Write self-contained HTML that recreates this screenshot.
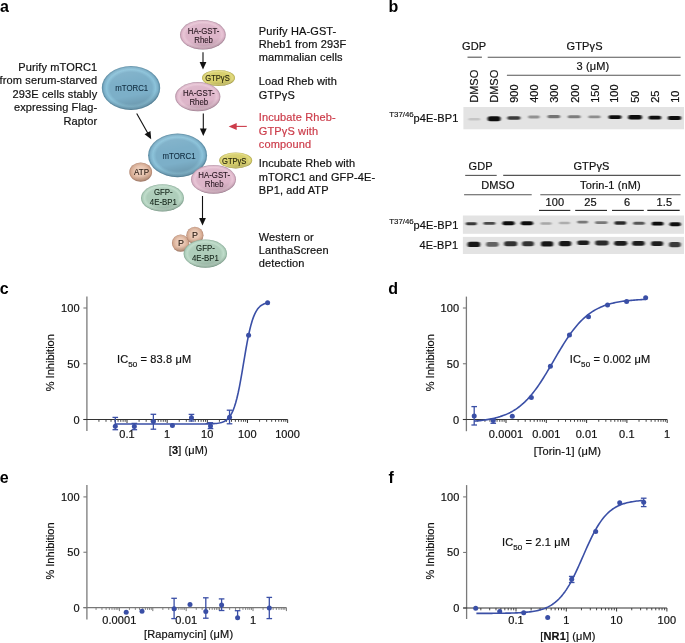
<!DOCTYPE html><html><head><meta charset="utf-8"><title>Figure</title><style>html,body{margin:0;padding:0;background:#fff;}svg{display:block;}</style></head><body>
<svg width="685" height="643" viewBox="0 0 685 643" font-family="'Liberation Sans', Arial, sans-serif">
<style>.t{stroke-width:0.22px;}</style>
<defs><radialGradient id="gBlue" cx="50%" cy="50%" r="50%"><stop offset="0" stop-color="#7cafc8"/><stop offset="0.72" stop-color="#7cafc8"/><stop offset="0.84" stop-color="#8cc3da"/><stop offset="0.93" stop-color="#7cafc8"/><stop offset="1" stop-color="#52849c"/></radialGradient><radialGradient id="gPink" cx="50%" cy="50%" r="50%"><stop offset="0" stop-color="#ddb5c9"/><stop offset="0.72" stop-color="#ddb5c9"/><stop offset="0.84" stop-color="#e8c6d6"/><stop offset="0.93" stop-color="#ddb5c9"/><stop offset="1" stop-color="#aa899c"/></radialGradient><radialGradient id="gYel" cx="50%" cy="50%" r="50%"><stop offset="0" stop-color="#d6ce6c"/><stop offset="0.72" stop-color="#d6ce6c"/><stop offset="0.84" stop-color="#e3db84"/><stop offset="0.93" stop-color="#d6ce6c"/><stop offset="1" stop-color="#aba24a"/></radialGradient><radialGradient id="gPeach" cx="50%" cy="50%" r="50%" fx="48%" fy="42%"><stop offset="0" stop-color="#f0d6c6"/><stop offset="0.55" stop-color="#e6c2ad"/><stop offset="0.85" stop-color="#d4a990"/><stop offset="1" stop-color="#b08470"/></radialGradient><radialGradient id="gGreen" cx="50%" cy="50%" r="50%"><stop offset="0" stop-color="#aecdba"/><stop offset="0.72" stop-color="#aecdba"/><stop offset="0.84" stop-color="#bfdcca"/><stop offset="0.93" stop-color="#aecdba"/><stop offset="1" stop-color="#82a792"/></radialGradient><linearGradient id="shade" x1="0" y1="0" x2="0.25" y2="1"><stop offset="0" stop-color="#fff" stop-opacity="0.12"/><stop offset="0.45" stop-color="#fff" stop-opacity="0"/><stop offset="0.75" stop-color="#000" stop-opacity="0"/><stop offset="1" stop-color="#000" stop-opacity="0.13"/></linearGradient><filter id="blur1" x="-50%" y="-100%" width="200%" height="300%"><feGaussianBlur stdDeviation="1.1 0.65"/></filter><filter id="blur2" x="-50%" y="-100%" width="200%" height="300%"><feGaussianBlur stdDeviation="1.2 0.9"/></filter></defs>
<rect width="685" height="643" fill="#fff"/>
<text x="0.1" y="11.9" font-size="16" font-weight="bold" fill="#000">a</text>
<text x="388.5" y="11.8" font-size="16" font-weight="bold" fill="#000">b</text>
<text x="-0.2" y="293.9" font-size="16" font-weight="bold" fill="#000">c</text>
<text x="388.3" y="293.7" font-size="16" font-weight="bold" fill="#000">d</text>
<text x="-0.2" y="482.9" font-size="16" font-weight="bold" fill="#000">e</text>
<text x="388.4" y="482.9" font-size="16" font-weight="bold" fill="#000">f</text>
<text x="97.3" y="70.7" font-size="11" text-anchor="end" letter-spacing="0.13" stroke="#111" stroke-width="0.2" fill="#111">Purify mTORC1</text>
<text x="97.3" y="84.2" font-size="11" text-anchor="end" letter-spacing="0.13" stroke="#111" stroke-width="0.2" fill="#111">from serum-starved</text>
<text x="97.3" y="97.7" font-size="11" text-anchor="end" letter-spacing="0.13" stroke="#111" stroke-width="0.2" fill="#111">293E cells stably</text>
<text x="97.3" y="111.2" font-size="11" text-anchor="end" letter-spacing="0.13" stroke="#111" stroke-width="0.2" fill="#111">expressing Flag-</text>
<text x="97.3" y="124.7" font-size="11" text-anchor="end" letter-spacing="0.13" stroke="#111" stroke-width="0.2" fill="#111">Raptor</text>
<text x="258.8" y="34.6" font-size="11" letter-spacing="0.13" stroke="#111" stroke-width="0.2" fill="#111">Purify HA-GST-</text>
<text x="258.8" y="48" font-size="11" letter-spacing="0.13" stroke="#111" stroke-width="0.2" fill="#111">Rheb1 from 293F</text>
<text x="258.8" y="61.4" font-size="11" letter-spacing="0.13" stroke="#111" stroke-width="0.2" fill="#111">mammalian cells</text>
<text x="258.8" y="85" font-size="11" letter-spacing="0.13" stroke="#111" stroke-width="0.2" fill="#111">Load Rheb with</text>
<text x="258.8" y="98.7" font-size="11" letter-spacing="0.13" stroke="#111" stroke-width="0.2" fill="#111">GTP&#947;S</text>
<text x="258.8" y="120.8" font-size="11" letter-spacing="0.13" stroke="#cc3c4a" stroke-width="0.2" fill="#cc3c4a">Incubate Rheb-</text>
<text x="258.8" y="134.55" font-size="11" letter-spacing="0.13" stroke="#cc3c4a" stroke-width="0.2" fill="#cc3c4a">GTP&#947;S with</text>
<text x="258.8" y="148.3" font-size="11" letter-spacing="0.13" stroke="#cc3c4a" stroke-width="0.2" fill="#cc3c4a">compound</text>
<text x="258.8" y="167.2" font-size="11" letter-spacing="0.13" stroke="#111" stroke-width="0.2" fill="#111">Incubate Rheb with</text>
<text x="258.8" y="180.75" font-size="11" letter-spacing="0.13" stroke="#111" stroke-width="0.2" fill="#111">mTORC1 and GFP-4E-</text>
<text x="258.8" y="194.3" font-size="11" letter-spacing="0.13" stroke="#111" stroke-width="0.2" fill="#111">BP1, add ATP</text>
<text x="258.8" y="240.6" font-size="11" letter-spacing="0.13" stroke="#111" stroke-width="0.2" fill="#111">Western or</text>
<text x="258.8" y="253.85" font-size="11" letter-spacing="0.13" stroke="#111" stroke-width="0.2" fill="#111">LanthaScreen</text>
<text x="258.8" y="267.1" font-size="11" letter-spacing="0.13" stroke="#111" stroke-width="0.2" fill="#111">detection</text>
<ellipse cx="131" cy="88" rx="29.2" ry="22" fill="url(#gBlue)"/>
<ellipse cx="131" cy="88" rx="29.2" ry="22" fill="url(#shade)"/>
<text x="0" y="0" transform="translate(131.75,91.2) scale(0.88,1)" font-size="8.9" text-anchor="middle" fill="#112d40" stroke="#112d40" stroke-width="0.12">mTORC1</text>
<ellipse cx="202.9" cy="34.8" rx="22.9" ry="14.8" fill="url(#gPink)"/>
<ellipse cx="202.9" cy="34.8" rx="22.9" ry="14.8" fill="url(#shade)"/>
<text x="0" y="0" transform="translate(203.6,33.7) scale(0.88,1)" font-size="8.9" text-anchor="middle" fill="#26161f" stroke="#26161f" stroke-width="0.12">HA-GST-</text>
<text x="0" y="0" transform="translate(203.6,42.8) scale(0.88,1)" font-size="8.9" text-anchor="middle" fill="#26161f" stroke="#26161f" stroke-width="0.12">Rheb</text>
<ellipse cx="218.5" cy="78" rx="16.5" ry="8" fill="url(#gYel)"/>
<ellipse cx="218.5" cy="78" rx="16.5" ry="8" fill="url(#shade)"/>
<text x="0" y="0" transform="translate(217.5,80.8) scale(0.88,1)" font-size="8.6" text-anchor="middle" fill="#201e08" stroke="#201e08" stroke-width="0.12">GTP&#947;S</text>
<ellipse cx="197.8" cy="96.7" rx="22.6" ry="14.6" fill="url(#gPink)"/>
<ellipse cx="197.8" cy="96.7" rx="22.6" ry="14.6" fill="url(#shade)"/>
<text x="0" y="0" transform="translate(198.75,95.9) scale(0.88,1)" font-size="8.9" text-anchor="middle" fill="#26161f" stroke="#26161f" stroke-width="0.12">HA-GST-</text>
<text x="0" y="0" transform="translate(198.75,104.9) scale(0.88,1)" font-size="8.9" text-anchor="middle" fill="#26161f" stroke="#26161f" stroke-width="0.12">Rheb</text>
<ellipse cx="177.6" cy="155.4" rx="29.5" ry="21.8" fill="url(#gBlue)"/>
<ellipse cx="177.6" cy="155.4" rx="29.5" ry="21.8" fill="url(#shade)"/>
<text x="0" y="0" transform="translate(179.05,159) scale(0.88,1)" font-size="8.9" text-anchor="middle" fill="#112d40" stroke="#112d40" stroke-width="0.12">mTORC1</text>
<ellipse cx="235.7" cy="160.4" rx="16.5" ry="8" fill="url(#gYel)"/>
<ellipse cx="235.7" cy="160.4" rx="16.5" ry="8" fill="url(#shade)"/>
<text x="0" y="0" transform="translate(234.2,163.8) scale(0.88,1)" font-size="8.6" text-anchor="middle" fill="#201e08" stroke="#201e08" stroke-width="0.12">GTP&#947;S</text>
<ellipse cx="213.5" cy="179.4" rx="22.5" ry="14.4" fill="url(#gPink)"/>
<ellipse cx="213.5" cy="179.4" rx="22.5" ry="14.4" fill="url(#shade)"/>
<text x="0" y="0" transform="translate(214.2,177.6) scale(0.88,1)" font-size="8.9" text-anchor="middle" fill="#26161f" stroke="#26161f" stroke-width="0.12">HA-GST-</text>
<text x="0" y="0" transform="translate(214.2,187.2) scale(0.88,1)" font-size="8.9" text-anchor="middle" fill="#26161f" stroke="#26161f" stroke-width="0.12">Rheb</text>
<ellipse cx="140.7" cy="172.1" rx="11.4" ry="9.6" fill="url(#gPeach)"/>
<ellipse cx="140.7" cy="172.1" rx="11.4" ry="9.6" fill="url(#shade)"/>
<text x="0" y="0" transform="translate(141.5,175.3) scale(0.9,1)" font-size="8.9" text-anchor="middle" fill="#24170f" stroke="#24170f" stroke-width="0.12">ATP</text>
<ellipse cx="162.5" cy="197.9" rx="21.5" ry="13.7" fill="url(#gGreen)"/>
<ellipse cx="162.5" cy="197.9" rx="21.5" ry="13.7" fill="url(#shade)"/>
<text x="0" y="0" transform="translate(163.3,195.1) scale(0.88,1)" font-size="8.9" text-anchor="middle" fill="#142419" stroke="#142419" stroke-width="0.12">GFP-</text>
<text x="0" y="0" transform="translate(163.3,204.6) scale(0.88,1)" font-size="8.9" text-anchor="middle" fill="#142419" stroke="#142419" stroke-width="0.12">4E-BP1</text>
<ellipse cx="180.6" cy="243.1" rx="8.7" ry="8.7" fill="url(#gPeach)"/>
<ellipse cx="180.6" cy="243.1" rx="8.7" ry="8.7" fill="url(#shade)"/>
<text x="0" y="0" transform="translate(181,245.7) scale(1,1)" font-size="8.9" text-anchor="middle" fill="#24170f" stroke="#24170f" stroke-width="0.12">P</text>
<ellipse cx="194.9" cy="235.3" rx="8.6" ry="8.6" fill="url(#gPeach)"/>
<ellipse cx="194.9" cy="235.3" rx="8.6" ry="8.6" fill="url(#shade)"/>
<text x="0" y="0" transform="translate(195,238.2) scale(1,1)" font-size="8.9" text-anchor="middle" fill="#24170f" stroke="#24170f" stroke-width="0.12">P</text>
<ellipse cx="205.3" cy="253.6" rx="21.7" ry="14.1" fill="url(#gGreen)"/>
<ellipse cx="205.3" cy="253.6" rx="21.7" ry="14.1" fill="url(#shade)"/>
<text x="0" y="0" transform="translate(205.4,251.1) scale(0.88,1)" font-size="8.9" text-anchor="middle" fill="#142419" stroke="#142419" stroke-width="0.12">GFP-</text>
<text x="0" y="0" transform="translate(205.4,260.6) scale(0.88,1)" font-size="8.9" text-anchor="middle" fill="#142419" stroke="#142419" stroke-width="0.12">4E-BP1</text>
<line x1="136.7" y1="113.5" x2="148.01" y2="133.54" stroke="#111" stroke-width="1.1"/>
<polygon points="151.2,139.2 144.55,134.34 150.48,131" fill="#111"/>
<line x1="203" y1="52.3" x2="203" y2="63" stroke="#111" stroke-width="1.1"/>
<polygon points="203,69.5 199.6,62 206.4,62" fill="#111"/>
<line x1="203.3" y1="113.5" x2="203.3" y2="129.5" stroke="#111" stroke-width="1.1"/>
<polygon points="203.3,136 199.9,128.5 206.7,128.5" fill="#111"/>
<line x1="202.5" y1="196" x2="202.5" y2="219" stroke="#111" stroke-width="1.1"/>
<polygon points="202.5,225.5 199.1,218 205.9,218" fill="#111"/>
<line x1="246.8" y1="126.4" x2="235.7" y2="126.4" stroke="#cc3c4a" stroke-width="1.1"/>
<polygon points="228.7,126.4 236.7,122.9 236.7,129.9" fill="#cc3c4a"/>
<text x="462" y="49.5" font-size="11" letter-spacing="0.13" stroke="#111" stroke-width="0.2" fill="#111">GDP</text>
<text x="566.5" y="49.6" font-size="11" letter-spacing="0.13" stroke="#111" stroke-width="0.2" fill="#111">GTP&#947;S</text>
<line x1="467.5" y1="57.2" x2="481.9" y2="57.2" stroke="#555" stroke-width="1.1"/>
<line x1="487.7" y1="57.2" x2="680.6" y2="57.2" stroke="#555" stroke-width="1.1"/>
<text x="576.5" y="69.75" font-size="11" letter-spacing="0.13" stroke="#111" stroke-width="0.2" fill="#111">3 (&#956;M)</text>
<line x1="506.9" y1="75.2" x2="680.6" y2="75.2" stroke="#555" stroke-width="1.1"/>
<text x="0" y="0" font-size="11" fill="#111" stroke="#111" stroke-width="0.2" transform="translate(478,102.8) rotate(-90)">DMSO</text>
<text x="0" y="0" font-size="11" fill="#111" stroke="#111" stroke-width="0.2" transform="translate(498,102.8) rotate(-90)">DMSO</text>
<text x="0" y="0" font-size="11" fill="#111" stroke="#111" stroke-width="0.2" transform="translate(518.2,102.8) rotate(-90)">900</text>
<text x="0" y="0" font-size="11" fill="#111" stroke="#111" stroke-width="0.2" transform="translate(538,102.8) rotate(-90)">400</text>
<text x="0" y="0" font-size="11" fill="#111" stroke="#111" stroke-width="0.2" transform="translate(558,102.8) rotate(-90)">300</text>
<text x="0" y="0" font-size="11" fill="#111" stroke="#111" stroke-width="0.2" transform="translate(578.5,102.8) rotate(-90)">200</text>
<text x="0" y="0" font-size="11" fill="#111" stroke="#111" stroke-width="0.2" transform="translate(598.5,102.8) rotate(-90)">150</text>
<text x="0" y="0" font-size="11" fill="#111" stroke="#111" stroke-width="0.2" transform="translate(618,102.8) rotate(-90)">100</text>
<text x="0" y="0" font-size="11" fill="#111" stroke="#111" stroke-width="0.2" transform="translate(638.5,102.8) rotate(-90)">50</text>
<text x="0" y="0" font-size="11" fill="#111" stroke="#111" stroke-width="0.2" transform="translate(658.5,102.8) rotate(-90)">25</text>
<text x="0" y="0" font-size="11" fill="#111" stroke="#111" stroke-width="0.2" transform="translate(678.7,102.8) rotate(-90)">10</text>
<rect x="463.4" y="107" width="220.6" height="22.3" fill="#e3e3e3"/>
<rect x="468.5" y="118" width="11.7" height="2.4" rx="1.2" fill="rgb(197,197,197)" filter="url(#blur1)"/>
<rect x="487.6" y="116.3" width="13" height="5" rx="2.5" fill="rgb(12,12,12)" filter="url(#blur1)"/>
<rect x="507.3" y="116.2" width="13.2" height="3.6" rx="1.8" fill="rgb(59,59,59)" filter="url(#blur1)"/>
<rect x="528.2" y="115.6" width="11.5" height="2.8" rx="1.4" fill="rgb(145,145,145)" filter="url(#blur1)"/>
<rect x="547.5" y="115" width="12.7" height="3.2" rx="1.6" fill="rgb(115,115,115)" filter="url(#blur1)"/>
<rect x="567.8" y="115.3" width="12.8" height="3" rx="1.5" fill="rgb(124,124,124)" filter="url(#blur1)"/>
<rect x="588.4" y="115.45" width="12.1" height="2.9" rx="1.45" fill="rgb(141,141,141)" filter="url(#blur1)"/>
<rect x="608.5" y="115.2" width="13" height="3.8" rx="1.9" fill="rgb(12,12,12)" filter="url(#blur1)"/>
<rect x="628.1" y="115.1" width="13.9" height="4.4" rx="2.2" fill="rgb(12,12,12)" filter="url(#blur1)"/>
<rect x="648.6" y="115.8" width="12.6" height="3.8" rx="1.9" fill="rgb(12,12,12)" filter="url(#blur1)"/>
<rect x="667.8" y="115.9" width="13.4" height="4" rx="2" fill="rgb(12,12,12)" filter="url(#blur1)"/>
<text x="389.2" y="116.8" font-size="7.9" fill="#111" stroke="#111" stroke-width="0.15">T37/46</text>
<text x="413.6" y="122" font-size="11" letter-spacing="0.13" stroke="#111" stroke-width="0.2" fill="#111">p4E-BP1</text>
<text x="468.6" y="169.6" font-size="11" letter-spacing="0.13" stroke="#111" stroke-width="0.2" fill="#111">GDP</text>
<text x="573.4" y="169.6" font-size="11" letter-spacing="0.13" stroke="#111" stroke-width="0.2" fill="#111">GTP&#947;S</text>
<line x1="465.2" y1="175.4" x2="496.7" y2="175.4" stroke="#555" stroke-width="1.1"/>
<line x1="503.2" y1="175.4" x2="680.6" y2="175.4" stroke="#555" stroke-width="1.1"/>
<text x="481.2" y="189.4" font-size="11" letter-spacing="0.13" stroke="#111" stroke-width="0.2" fill="#111">DMSO</text>
<text x="580" y="189.4" font-size="11" letter-spacing="0.13" stroke="#111" stroke-width="0.2" fill="#111">Torin-1 (nM)</text>
<line x1="464.1" y1="194.7" x2="531.7" y2="194.7" stroke="#555" stroke-width="1.1"/>
<line x1="540.3" y1="194.7" x2="680.6" y2="194.7" stroke="#555" stroke-width="1.1"/>
<text x="545.6" y="205.7" font-size="11" letter-spacing="0.13" stroke="#111" stroke-width="0.2" fill="#111">100</text>
<text x="584.2" y="205.7" font-size="11" letter-spacing="0.13" stroke="#111" stroke-width="0.2" fill="#111">25</text>
<text x="624.1" y="205.7" font-size="11" letter-spacing="0.13" stroke="#111" stroke-width="0.2" fill="#111">6</text>
<text x="656.6" y="205.7" font-size="11" letter-spacing="0.13" stroke="#111" stroke-width="0.2" fill="#111">1.5</text>
<line x1="539" y1="210.4" x2="570.3" y2="210.4" stroke="#222" stroke-width="1.1"/>
<line x1="575.2" y1="210.4" x2="607" y2="210.4" stroke="#222" stroke-width="1.1"/>
<line x1="612" y1="210.4" x2="643.8" y2="210.4" stroke="#222" stroke-width="1.1"/>
<line x1="647.3" y1="210.4" x2="679.7" y2="210.4" stroke="#222" stroke-width="1.1"/>
<rect x="462.9" y="215.5" width="221.1" height="18.3" fill="#e3e3e3"/>
<rect x="465.8" y="222.35" width="11" height="2.9" rx="1.45" fill="rgb(55,55,55)" filter="url(#blur1)"/>
<rect x="483.5" y="221.95" width="11.8" height="2.9" rx="1.45" fill="rgb(72,72,72)" filter="url(#blur1)"/>
<rect x="502.4" y="221.3" width="12.2" height="4" rx="2" fill="rgb(12,12,12)" filter="url(#blur1)"/>
<rect x="520.8" y="221.3" width="12.3" height="4" rx="2" fill="rgb(12,12,12)" filter="url(#blur1)"/>
<rect x="540.5" y="222.35" width="11" height="2.5" rx="1.25" fill="rgb(167,167,167)" filter="url(#blur1)"/>
<rect x="559" y="221.75" width="11" height="2.5" rx="1.25" fill="rgb(173,173,173)" filter="url(#blur1)"/>
<rect x="577.2" y="220.7" width="10.8" height="2.8" rx="1.4" fill="rgb(120,120,120)" filter="url(#blur1)"/>
<rect x="595.1" y="221.2" width="12.4" height="2.8" rx="1.4" fill="rgb(120,120,120)" filter="url(#blur1)"/>
<rect x="614.4" y="221.35" width="11.8" height="3.3" rx="1.65" fill="rgb(44,44,44)" filter="url(#blur1)"/>
<rect x="633.2" y="221.7" width="11.5" height="3" rx="1.5" fill="rgb(87,87,87)" filter="url(#blur1)"/>
<rect x="651.7" y="221.8" width="11.8" height="3.8" rx="1.9" fill="rgb(12,12,12)" filter="url(#blur1)"/>
<rect x="669.5" y="222.2" width="11.3" height="4" rx="2" fill="rgb(12,12,12)" filter="url(#blur1)"/>
<rect x="462.9" y="236.9" width="221.1" height="17.1" fill="#e3e3e3"/>
<rect x="467.5" y="241.8" width="12.7" height="5.2" rx="2.6" fill="rgb(23,23,23)" filter="url(#blur1)"/>
<rect x="486" y="242.1" width="12.6" height="4.6" rx="2.3" fill="rgb(98,98,98)" filter="url(#blur1)"/>
<rect x="504.1" y="241.3" width="13.1" height="5" rx="2.5" fill="rgb(51,51,51)" filter="url(#blur1)"/>
<rect x="522.1" y="241.3" width="11.8" height="5" rx="2.5" fill="rgb(51,51,51)" filter="url(#blur1)"/>
<rect x="541" y="241.3" width="12.2" height="5.2" rx="2.6" fill="rgb(23,23,23)" filter="url(#blur1)"/>
<rect x="559" y="240.9" width="12.3" height="5.4" rx="2.7" fill="rgb(18,18,18)" filter="url(#blur1)"/>
<rect x="577.2" y="240.5" width="12.1" height="4.6" rx="2.3" fill="rgb(29,29,29)" filter="url(#blur1)"/>
<rect x="595.1" y="240.6" width="13.6" height="4.8" rx="2.4" fill="rgb(44,44,44)" filter="url(#blur1)"/>
<rect x="614.1" y="240.9" width="13.1" height="4.8" rx="2.4" fill="rgb(29,29,29)" filter="url(#blur1)"/>
<rect x="632.1" y="241" width="12.6" height="4.8" rx="2.4" fill="rgb(29,29,29)" filter="url(#blur1)"/>
<rect x="651" y="241.3" width="12.2" height="4.8" rx="2.4" fill="rgb(29,29,29)" filter="url(#blur1)"/>
<rect x="669" y="242" width="11.8" height="5.2" rx="2.6" fill="rgb(59,59,59)" filter="url(#blur1)"/>
<text x="389.2" y="223.8" font-size="7.9" fill="#111" stroke="#111" stroke-width="0.15">T37/46</text>
<text x="413.6" y="229" font-size="11" letter-spacing="0.13" stroke="#111" stroke-width="0.2" fill="#111">p4E-BP1</text>
<text x="419.6" y="249.2" font-size="11" letter-spacing="0.13" stroke="#111" stroke-width="0.2" fill="#111">4E-BP1</text>
<line x1="86.9" y1="296.6" x2="86.9" y2="430.9" stroke="#7a7a7a" stroke-width="1.3"/>
<line x1="83.4" y1="308" x2="86.9" y2="308" stroke="#7a7a7a" stroke-width="1.1"/>
<text x="79.7" y="312" font-size="11" text-anchor="end" letter-spacing="0.13" stroke="#111" stroke-width="0.2" fill="#111">100</text>
<line x1="83.4" y1="363.75" x2="86.9" y2="363.75" stroke="#7a7a7a" stroke-width="1.1"/>
<text x="79.7" y="367.75" font-size="11" text-anchor="end" letter-spacing="0.13" stroke="#111" stroke-width="0.2" fill="#111">50</text>
<line x1="83.4" y1="419.5" x2="86.9" y2="419.5" stroke="#7a7a7a" stroke-width="1.1"/>
<text x="79.7" y="423.5" font-size="11" text-anchor="end" letter-spacing="0.13" stroke="#111" stroke-width="0.2" fill="#111">0</text>
<line x1="83.4" y1="419.5" x2="287.64" y2="419.5" stroke="#333" stroke-width="1.1"/>
<line x1="98.93" y1="419.5" x2="98.93" y2="421.8" stroke="#333" stroke-width="0.9"/>
<line x1="106" y1="419.5" x2="106" y2="421.8" stroke="#333" stroke-width="0.9"/>
<line x1="111.02" y1="419.5" x2="111.02" y2="421.8" stroke="#333" stroke-width="0.9"/>
<line x1="114.91" y1="419.5" x2="114.91" y2="421.8" stroke="#333" stroke-width="0.9"/>
<line x1="118.09" y1="419.5" x2="118.09" y2="421.8" stroke="#333" stroke-width="0.9"/>
<line x1="120.78" y1="419.5" x2="120.78" y2="421.8" stroke="#333" stroke-width="0.9"/>
<line x1="123.11" y1="419.5" x2="123.11" y2="421.8" stroke="#333" stroke-width="0.9"/>
<line x1="125.16" y1="419.5" x2="125.16" y2="421.8" stroke="#333" stroke-width="0.9"/>
<line x1="139.09" y1="419.5" x2="139.09" y2="421.8" stroke="#333" stroke-width="0.9"/>
<line x1="146.16" y1="419.5" x2="146.16" y2="421.8" stroke="#333" stroke-width="0.9"/>
<line x1="151.18" y1="419.5" x2="151.18" y2="421.8" stroke="#333" stroke-width="0.9"/>
<line x1="155.07" y1="419.5" x2="155.07" y2="421.8" stroke="#333" stroke-width="0.9"/>
<line x1="158.25" y1="419.5" x2="158.25" y2="421.8" stroke="#333" stroke-width="0.9"/>
<line x1="160.94" y1="419.5" x2="160.94" y2="421.8" stroke="#333" stroke-width="0.9"/>
<line x1="163.27" y1="419.5" x2="163.27" y2="421.8" stroke="#333" stroke-width="0.9"/>
<line x1="165.32" y1="419.5" x2="165.32" y2="421.8" stroke="#333" stroke-width="0.9"/>
<line x1="179.25" y1="419.5" x2="179.25" y2="421.8" stroke="#333" stroke-width="0.9"/>
<line x1="186.32" y1="419.5" x2="186.32" y2="421.8" stroke="#333" stroke-width="0.9"/>
<line x1="191.34" y1="419.5" x2="191.34" y2="421.8" stroke="#333" stroke-width="0.9"/>
<line x1="195.23" y1="419.5" x2="195.23" y2="421.8" stroke="#333" stroke-width="0.9"/>
<line x1="198.41" y1="419.5" x2="198.41" y2="421.8" stroke="#333" stroke-width="0.9"/>
<line x1="201.1" y1="419.5" x2="201.1" y2="421.8" stroke="#333" stroke-width="0.9"/>
<line x1="203.43" y1="419.5" x2="203.43" y2="421.8" stroke="#333" stroke-width="0.9"/>
<line x1="205.48" y1="419.5" x2="205.48" y2="421.8" stroke="#333" stroke-width="0.9"/>
<line x1="219.41" y1="419.5" x2="219.41" y2="421.8" stroke="#333" stroke-width="0.9"/>
<line x1="226.48" y1="419.5" x2="226.48" y2="421.8" stroke="#333" stroke-width="0.9"/>
<line x1="231.5" y1="419.5" x2="231.5" y2="421.8" stroke="#333" stroke-width="0.9"/>
<line x1="235.39" y1="419.5" x2="235.39" y2="421.8" stroke="#333" stroke-width="0.9"/>
<line x1="238.57" y1="419.5" x2="238.57" y2="421.8" stroke="#333" stroke-width="0.9"/>
<line x1="241.26" y1="419.5" x2="241.26" y2="421.8" stroke="#333" stroke-width="0.9"/>
<line x1="243.59" y1="419.5" x2="243.59" y2="421.8" stroke="#333" stroke-width="0.9"/>
<line x1="245.64" y1="419.5" x2="245.64" y2="421.8" stroke="#333" stroke-width="0.9"/>
<line x1="259.57" y1="419.5" x2="259.57" y2="421.8" stroke="#333" stroke-width="0.9"/>
<line x1="266.64" y1="419.5" x2="266.64" y2="421.8" stroke="#333" stroke-width="0.9"/>
<line x1="271.66" y1="419.5" x2="271.66" y2="421.8" stroke="#333" stroke-width="0.9"/>
<line x1="275.55" y1="419.5" x2="275.55" y2="421.8" stroke="#333" stroke-width="0.9"/>
<line x1="278.73" y1="419.5" x2="278.73" y2="421.8" stroke="#333" stroke-width="0.9"/>
<line x1="281.42" y1="419.5" x2="281.42" y2="421.8" stroke="#333" stroke-width="0.9"/>
<line x1="283.75" y1="419.5" x2="283.75" y2="421.8" stroke="#333" stroke-width="0.9"/>
<line x1="285.8" y1="419.5" x2="285.8" y2="421.8" stroke="#333" stroke-width="0.9"/>
<line x1="127" y1="419.5" x2="127" y2="423" stroke="#333" stroke-width="1"/>
<line x1="167.16" y1="419.5" x2="167.16" y2="423" stroke="#333" stroke-width="1"/>
<line x1="207.32" y1="419.5" x2="207.32" y2="423" stroke="#333" stroke-width="1"/>
<line x1="247.48" y1="419.5" x2="247.48" y2="423" stroke="#333" stroke-width="1"/>
<line x1="287.64" y1="419.5" x2="287.64" y2="423" stroke="#333" stroke-width="1"/>
<text x="127" y="437.6" font-size="11" text-anchor="middle" letter-spacing="0.13" stroke="#111" stroke-width="0.2" fill="#111">0.1</text>
<text x="167.16" y="437.6" font-size="11" text-anchor="middle" letter-spacing="0.13" stroke="#111" stroke-width="0.2" fill="#111">1</text>
<text x="207.32" y="437.6" font-size="11" text-anchor="middle" letter-spacing="0.13" stroke="#111" stroke-width="0.2" fill="#111">10</text>
<text x="247.48" y="437.6" font-size="11" text-anchor="middle" letter-spacing="0.13" stroke="#111" stroke-width="0.2" fill="#111">100</text>
<text x="287.64" y="437.6" font-size="11" text-anchor="middle" letter-spacing="0.13" stroke="#111" stroke-width="0.2" fill="#111">1000</text>
<text x="0" y="0" font-size="11" letter-spacing="0.03" fill="#111" stroke="#111" stroke-width="0.2" text-anchor="middle" transform="translate(53.9,362.7) rotate(-90)">% Inhibition</text>
<text x="188.3" y="454" font-size="11" letter-spacing="0.13" fill="#111" stroke="#111" stroke-width="0.2" text-anchor="middle">[<tspan font-weight="bold">3</tspan>] (&#956;M)</text>
<text x="117" y="363.2" font-size="11" letter-spacing="0.13" fill="#111" stroke="#111" stroke-width="0.2">IC<tspan font-size="8" dy="3.6">50</tspan><tspan dy="-3.6" letter-spacing="0.13"> = 83.8 &#956;M</tspan></text>
<polyline points="115.3,424 116.58,424 117.86,424 119.14,424 120.42,424 121.7,424 122.98,424 124.26,424 125.54,424 126.82,424 128.1,424 129.38,424 130.66,424 131.94,424 133.22,424 134.5,424 135.78,424 137.06,424 138.34,424 139.62,424 140.9,424 142.18,424 143.46,424 144.74,424 146.02,424 147.3,424 148.58,424 149.86,424 151.14,424 152.42,424 153.7,424 154.98,424 156.26,424 157.54,424 158.82,424 160.1,424 161.38,424 162.66,424 163.94,424 165.22,424 166.5,424 167.78,424 169.06,424 170.34,424 171.62,424 172.9,424 174.18,424 175.46,424 176.74,424 178.02,424 179.3,424 180.58,424 181.86,424 183.14,424 184.42,424 185.7,424 186.98,424 188.26,424 189.54,424 190.82,424 192.1,424 193.38,423.99 194.66,423.99 195.94,423.99 197.22,423.99 198.5,423.98 199.78,423.98 201.06,423.97 202.34,423.96 203.62,423.95 204.9,423.94 206.18,423.92 207.46,423.9 208.74,423.87 210.02,423.84 211.3,423.79 212.58,423.73 213.86,423.66 215.14,423.56 216.42,423.43 217.7,423.27 218.98,423.06 220.26,422.79 221.54,422.45 222.82,422.01 224.1,421.45 225.38,420.73 226.66,419.83 227.94,418.68 229.22,417.24 230.5,415.43 231.78,413.19 233.06,410.42 234.34,407.06 235.62,403.03 236.9,398.28 238.18,392.78 239.46,386.55 240.74,379.7 242.02,372.35 243.3,364.71 244.58,357.01 245.86,349.5 247.14,342.39 248.42,335.85 249.7,330.01 250.98,324.9 252.26,320.54 253.54,316.87 254.82,313.84 256.1,311.36 257.38,309.36 258.66,307.76 259.94,306.48 261.22,305.46 262.5,304.67 263.78,304.04 265.06,303.55 266.34,303.16 267.62,302.86" fill="none" stroke="#3a4fa6" stroke-width="1.6" stroke-linejoin="round"/>
<line x1="115.3" y1="417.4" x2="115.3" y2="429.7" stroke="#3a4fa6" stroke-width="1.3"/>
<line x1="112.5" y1="417.4" x2="118.1" y2="417.4" stroke="#3a4fa6" stroke-width="1.3"/>
<line x1="112.5" y1="429.7" x2="118.1" y2="429.7" stroke="#3a4fa6" stroke-width="1.3"/>
<circle cx="115.3" cy="426.2" r="2.5" fill="#3a4fa6"/>
<line x1="134.34" y1="423.4" x2="134.34" y2="429.7" stroke="#3a4fa6" stroke-width="1.3"/>
<line x1="131.54" y1="423.4" x2="137.14" y2="423.4" stroke="#3a4fa6" stroke-width="1.3"/>
<line x1="131.54" y1="429.7" x2="137.14" y2="429.7" stroke="#3a4fa6" stroke-width="1.3"/>
<circle cx="134.34" cy="426.5" r="2.5" fill="#3a4fa6"/>
<line x1="153.38" y1="414.3" x2="153.38" y2="429.2" stroke="#3a4fa6" stroke-width="1.3"/>
<line x1="150.58" y1="414.3" x2="156.18" y2="414.3" stroke="#3a4fa6" stroke-width="1.3"/>
<line x1="150.58" y1="429.2" x2="156.18" y2="429.2" stroke="#3a4fa6" stroke-width="1.3"/>
<circle cx="153.38" cy="421.6" r="2.5" fill="#3a4fa6"/>
<circle cx="172.42" cy="425.5" r="2.5" fill="#3a4fa6"/>
<line x1="191.46" y1="414.4" x2="191.46" y2="421" stroke="#3a4fa6" stroke-width="1.3"/>
<line x1="188.66" y1="414.4" x2="194.26" y2="414.4" stroke="#3a4fa6" stroke-width="1.3"/>
<line x1="188.66" y1="421" x2="194.26" y2="421" stroke="#3a4fa6" stroke-width="1.3"/>
<circle cx="191.46" cy="417.7" r="2.5" fill="#3a4fa6"/>
<line x1="210.5" y1="422.7" x2="210.5" y2="428.6" stroke="#3a4fa6" stroke-width="1.3"/>
<line x1="207.7" y1="422.7" x2="213.3" y2="422.7" stroke="#3a4fa6" stroke-width="1.3"/>
<line x1="207.7" y1="428.6" x2="213.3" y2="428.6" stroke="#3a4fa6" stroke-width="1.3"/>
<circle cx="210.5" cy="426" r="2.5" fill="#3a4fa6"/>
<line x1="229.54" y1="410.2" x2="229.54" y2="423.8" stroke="#3a4fa6" stroke-width="1.3"/>
<line x1="226.74" y1="410.2" x2="232.34" y2="410.2" stroke="#3a4fa6" stroke-width="1.3"/>
<line x1="226.74" y1="423.8" x2="232.34" y2="423.8" stroke="#3a4fa6" stroke-width="1.3"/>
<circle cx="229.54" cy="417.2" r="2.5" fill="#3a4fa6"/>
<circle cx="248.58" cy="335.2" r="2.5" fill="#3a4fa6"/>
<circle cx="267.62" cy="302.8" r="2.5" fill="#3a4fa6"/>
<line x1="466.4" y1="296.6" x2="466.4" y2="431.2" stroke="#7a7a7a" stroke-width="1.3"/>
<line x1="462.9" y1="308" x2="466.4" y2="308" stroke="#7a7a7a" stroke-width="1.1"/>
<text x="459.2" y="312" font-size="11" text-anchor="end" letter-spacing="0.13" stroke="#111" stroke-width="0.2" fill="#111">100</text>
<line x1="462.9" y1="363.75" x2="466.4" y2="363.75" stroke="#7a7a7a" stroke-width="1.1"/>
<text x="459.2" y="367.75" font-size="11" text-anchor="end" letter-spacing="0.13" stroke="#111" stroke-width="0.2" fill="#111">50</text>
<line x1="462.9" y1="419.5" x2="466.4" y2="419.5" stroke="#7a7a7a" stroke-width="1.1"/>
<text x="459.2" y="423.5" font-size="11" text-anchor="end" letter-spacing="0.13" stroke="#111" stroke-width="0.2" fill="#111">0</text>
<line x1="462.9" y1="419.5" x2="667.2" y2="419.5" stroke="#333" stroke-width="1.1"/>
<line x1="477.83" y1="419.5" x2="477.83" y2="421.8" stroke="#333" stroke-width="0.9"/>
<line x1="484.93" y1="419.5" x2="484.93" y2="421.8" stroke="#333" stroke-width="0.9"/>
<line x1="489.96" y1="419.5" x2="489.96" y2="421.8" stroke="#333" stroke-width="0.9"/>
<line x1="493.87" y1="419.5" x2="493.87" y2="421.8" stroke="#333" stroke-width="0.9"/>
<line x1="497.06" y1="419.5" x2="497.06" y2="421.8" stroke="#333" stroke-width="0.9"/>
<line x1="499.76" y1="419.5" x2="499.76" y2="421.8" stroke="#333" stroke-width="0.9"/>
<line x1="502.09" y1="419.5" x2="502.09" y2="421.8" stroke="#333" stroke-width="0.9"/>
<line x1="504.16" y1="419.5" x2="504.16" y2="421.8" stroke="#333" stroke-width="0.9"/>
<line x1="518.13" y1="419.5" x2="518.13" y2="421.8" stroke="#333" stroke-width="0.9"/>
<line x1="525.23" y1="419.5" x2="525.23" y2="421.8" stroke="#333" stroke-width="0.9"/>
<line x1="530.26" y1="419.5" x2="530.26" y2="421.8" stroke="#333" stroke-width="0.9"/>
<line x1="534.17" y1="419.5" x2="534.17" y2="421.8" stroke="#333" stroke-width="0.9"/>
<line x1="537.36" y1="419.5" x2="537.36" y2="421.8" stroke="#333" stroke-width="0.9"/>
<line x1="540.06" y1="419.5" x2="540.06" y2="421.8" stroke="#333" stroke-width="0.9"/>
<line x1="542.39" y1="419.5" x2="542.39" y2="421.8" stroke="#333" stroke-width="0.9"/>
<line x1="544.46" y1="419.5" x2="544.46" y2="421.8" stroke="#333" stroke-width="0.9"/>
<line x1="558.43" y1="419.5" x2="558.43" y2="421.8" stroke="#333" stroke-width="0.9"/>
<line x1="565.53" y1="419.5" x2="565.53" y2="421.8" stroke="#333" stroke-width="0.9"/>
<line x1="570.56" y1="419.5" x2="570.56" y2="421.8" stroke="#333" stroke-width="0.9"/>
<line x1="574.47" y1="419.5" x2="574.47" y2="421.8" stroke="#333" stroke-width="0.9"/>
<line x1="577.66" y1="419.5" x2="577.66" y2="421.8" stroke="#333" stroke-width="0.9"/>
<line x1="580.36" y1="419.5" x2="580.36" y2="421.8" stroke="#333" stroke-width="0.9"/>
<line x1="582.69" y1="419.5" x2="582.69" y2="421.8" stroke="#333" stroke-width="0.9"/>
<line x1="584.76" y1="419.5" x2="584.76" y2="421.8" stroke="#333" stroke-width="0.9"/>
<line x1="598.73" y1="419.5" x2="598.73" y2="421.8" stroke="#333" stroke-width="0.9"/>
<line x1="605.83" y1="419.5" x2="605.83" y2="421.8" stroke="#333" stroke-width="0.9"/>
<line x1="610.86" y1="419.5" x2="610.86" y2="421.8" stroke="#333" stroke-width="0.9"/>
<line x1="614.77" y1="419.5" x2="614.77" y2="421.8" stroke="#333" stroke-width="0.9"/>
<line x1="617.96" y1="419.5" x2="617.96" y2="421.8" stroke="#333" stroke-width="0.9"/>
<line x1="620.66" y1="419.5" x2="620.66" y2="421.8" stroke="#333" stroke-width="0.9"/>
<line x1="622.99" y1="419.5" x2="622.99" y2="421.8" stroke="#333" stroke-width="0.9"/>
<line x1="625.06" y1="419.5" x2="625.06" y2="421.8" stroke="#333" stroke-width="0.9"/>
<line x1="639.03" y1="419.5" x2="639.03" y2="421.8" stroke="#333" stroke-width="0.9"/>
<line x1="646.13" y1="419.5" x2="646.13" y2="421.8" stroke="#333" stroke-width="0.9"/>
<line x1="651.16" y1="419.5" x2="651.16" y2="421.8" stroke="#333" stroke-width="0.9"/>
<line x1="655.07" y1="419.5" x2="655.07" y2="421.8" stroke="#333" stroke-width="0.9"/>
<line x1="658.26" y1="419.5" x2="658.26" y2="421.8" stroke="#333" stroke-width="0.9"/>
<line x1="660.96" y1="419.5" x2="660.96" y2="421.8" stroke="#333" stroke-width="0.9"/>
<line x1="663.29" y1="419.5" x2="663.29" y2="421.8" stroke="#333" stroke-width="0.9"/>
<line x1="665.36" y1="419.5" x2="665.36" y2="421.8" stroke="#333" stroke-width="0.9"/>
<line x1="506" y1="419.5" x2="506" y2="423" stroke="#333" stroke-width="1"/>
<line x1="546.3" y1="419.5" x2="546.3" y2="423" stroke="#333" stroke-width="1"/>
<line x1="586.6" y1="419.5" x2="586.6" y2="423" stroke="#333" stroke-width="1"/>
<line x1="626.9" y1="419.5" x2="626.9" y2="423" stroke="#333" stroke-width="1"/>
<line x1="667.2" y1="419.5" x2="667.2" y2="423" stroke="#333" stroke-width="1"/>
<text x="506" y="437.8" font-size="11" text-anchor="middle" letter-spacing="0.13" stroke="#111" stroke-width="0.2" fill="#111">0.0001</text>
<text x="546.3" y="437.8" font-size="11" text-anchor="middle" letter-spacing="0.13" stroke="#111" stroke-width="0.2" fill="#111">0.001</text>
<text x="586.6" y="437.8" font-size="11" text-anchor="middle" letter-spacing="0.13" stroke="#111" stroke-width="0.2" fill="#111">0.01</text>
<text x="626.9" y="437.8" font-size="11" text-anchor="middle" letter-spacing="0.13" stroke="#111" stroke-width="0.2" fill="#111">0.1</text>
<text x="667.2" y="437.8" font-size="11" text-anchor="middle" letter-spacing="0.13" stroke="#111" stroke-width="0.2" fill="#111">1</text>
<text x="0" y="0" font-size="11" letter-spacing="0.03" fill="#111" stroke="#111" stroke-width="0.2" text-anchor="middle" transform="translate(433.6,362.7) rotate(-90)">% Inhibition</text>
<text x="533.7" y="454.8" font-size="11" letter-spacing="0.13" fill="#111" stroke="#111" stroke-width="0.2">[Torin-1] (&#956;M)</text>
<text x="569.8" y="362.9" font-size="11" letter-spacing="0.13" fill="#111" stroke="#111" stroke-width="0.2">IC<tspan font-size="8" dy="3.6">50</tspan><tspan dy="-3.6" letter-spacing="0.13"> = 0.002 &#956;M</tspan></text>
<polyline points="474.2,421.13 475.64,421.01 477.08,420.88 478.52,420.74 479.96,420.58 481.4,420.42 482.84,420.24 484.29,420.05 485.73,419.84 487.17,419.61 488.61,419.37 490.05,419.11 491.49,418.82 492.93,418.52 494.37,418.19 495.81,417.84 497.25,417.46 498.69,417.05 500.13,416.61 501.57,416.13 503.02,415.62 504.46,415.08 505.9,414.49 507.34,413.86 508.78,413.19 510.22,412.47 511.66,411.7 513.1,410.87 514.54,409.99 515.98,409.06 517.42,408.06 518.86,407 520.3,405.87 521.74,404.68 523.19,403.42 524.63,402.08 526.07,400.67 527.51,399.19 528.95,397.63 530.39,395.99 531.83,394.28 533.27,392.49 534.71,390.63 536.15,388.69 537.59,386.68 539.03,384.6 540.47,382.46 541.92,380.26 543.36,377.99 544.8,375.68 546.24,373.32 547.68,370.93 549.12,368.5 550.56,366.05 552,363.58 553.44,361.1 554.88,358.61 556.32,356.14 557.76,353.68 559.2,351.24 560.65,348.83 562.09,346.46 563.53,344.13 564.97,341.85 566.41,339.62 567.85,337.46 569.29,335.36 570.73,333.32 572.17,331.36 573.61,329.47 575.05,327.65 576.49,325.91 577.93,324.25 579.38,322.66 580.82,321.15 582.26,319.72 583.7,318.36 585.14,317.07 586.58,315.85 588.02,314.7 589.46,313.61 590.9,312.59 592.34,311.64 593.78,310.74 595.22,309.89 596.66,309.1 598.11,308.37 599.55,307.67 600.99,307.03 602.43,306.43 603.87,305.87 605.31,305.35 606.75,304.86 608.19,304.41 609.63,303.99 611.07,303.6 612.51,303.23 613.95,302.89 615.39,302.58 616.83,302.29 618.28,302.02 619.72,301.77 621.16,301.54 622.6,301.33 624.04,301.13 625.48,300.95 626.92,300.78 628.36,300.62 629.8,300.47 631.24,300.34 632.68,300.21 634.12,300.1 635.56,299.99 637.01,299.89 638.45,299.8 639.89,299.72 641.33,299.64 642.77,299.57 644.21,299.5 645.65,299.44" fill="none" stroke="#3a4fa6" stroke-width="1.6" stroke-linejoin="round"/>
<line x1="474.2" y1="406.6" x2="474.2" y2="425" stroke="#3a4fa6" stroke-width="1.3"/>
<line x1="471.4" y1="406.6" x2="477" y2="406.6" stroke="#3a4fa6" stroke-width="1.3"/>
<line x1="471.4" y1="425" x2="477" y2="425" stroke="#3a4fa6" stroke-width="1.3"/>
<circle cx="474.2" cy="415.9" r="2.5" fill="#3a4fa6"/>
<line x1="493.25" y1="418.9" x2="493.25" y2="423.3" stroke="#3a4fa6" stroke-width="1.3"/>
<line x1="490.45" y1="418.9" x2="496.05" y2="418.9" stroke="#3a4fa6" stroke-width="1.3"/>
<line x1="490.45" y1="423.3" x2="496.05" y2="423.3" stroke="#3a4fa6" stroke-width="1.3"/>
<circle cx="493.25" cy="420.6" r="2.5" fill="#3a4fa6"/>
<circle cx="512.3" cy="416.3" r="2.5" fill="#3a4fa6"/>
<circle cx="531.35" cy="397.4" r="2.5" fill="#3a4fa6"/>
<circle cx="550.4" cy="366.2" r="2.5" fill="#3a4fa6"/>
<circle cx="569.45" cy="334.9" r="2.5" fill="#3a4fa6"/>
<circle cx="588.5" cy="316.7" r="2.5" fill="#3a4fa6"/>
<circle cx="607.55" cy="304.9" r="2.5" fill="#3a4fa6"/>
<circle cx="626.6" cy="301.4" r="2.5" fill="#3a4fa6"/>
<circle cx="645.65" cy="297.7" r="2.5" fill="#3a4fa6"/>
<line x1="86.9" y1="485.1" x2="86.9" y2="619.5" stroke="#7a7a7a" stroke-width="1.3"/>
<line x1="83.4" y1="496.9" x2="86.9" y2="496.9" stroke="#7a7a7a" stroke-width="1.1"/>
<text x="79.7" y="500.9" font-size="11" text-anchor="end" letter-spacing="0.13" stroke="#111" stroke-width="0.2" fill="#111">100</text>
<line x1="83.4" y1="552.25" x2="86.9" y2="552.25" stroke="#7a7a7a" stroke-width="1.1"/>
<text x="79.7" y="556.25" font-size="11" text-anchor="end" letter-spacing="0.13" stroke="#111" stroke-width="0.2" fill="#111">50</text>
<line x1="83.4" y1="607.6" x2="86.9" y2="607.6" stroke="#7a7a7a" stroke-width="1.1"/>
<text x="79.7" y="611.6" font-size="11" text-anchor="end" letter-spacing="0.13" stroke="#111" stroke-width="0.2" fill="#111">0</text>
<line x1="83.4" y1="607.6" x2="286.4" y2="607.6" stroke="#777" stroke-width="1.1"/>
<line x1="96.05" y1="607.6" x2="96.05" y2="609.9" stroke="#777" stroke-width="0.9"/>
<line x1="101.94" y1="607.6" x2="101.94" y2="609.9" stroke="#777" stroke-width="0.9"/>
<line x1="106.11" y1="607.6" x2="106.11" y2="609.9" stroke="#777" stroke-width="0.9"/>
<line x1="109.35" y1="607.6" x2="109.35" y2="609.9" stroke="#777" stroke-width="0.9"/>
<line x1="111.99" y1="607.6" x2="111.99" y2="609.9" stroke="#777" stroke-width="0.9"/>
<line x1="114.23" y1="607.6" x2="114.23" y2="609.9" stroke="#777" stroke-width="0.9"/>
<line x1="116.16" y1="607.6" x2="116.16" y2="609.9" stroke="#777" stroke-width="0.9"/>
<line x1="117.87" y1="607.6" x2="117.87" y2="609.9" stroke="#777" stroke-width="0.9"/>
<line x1="129.45" y1="607.6" x2="129.45" y2="609.9" stroke="#777" stroke-width="0.9"/>
<line x1="135.34" y1="607.6" x2="135.34" y2="609.9" stroke="#777" stroke-width="0.9"/>
<line x1="139.51" y1="607.6" x2="139.51" y2="609.9" stroke="#777" stroke-width="0.9"/>
<line x1="142.75" y1="607.6" x2="142.75" y2="609.9" stroke="#777" stroke-width="0.9"/>
<line x1="145.39" y1="607.6" x2="145.39" y2="609.9" stroke="#777" stroke-width="0.9"/>
<line x1="147.63" y1="607.6" x2="147.63" y2="609.9" stroke="#777" stroke-width="0.9"/>
<line x1="149.56" y1="607.6" x2="149.56" y2="609.9" stroke="#777" stroke-width="0.9"/>
<line x1="151.27" y1="607.6" x2="151.27" y2="609.9" stroke="#777" stroke-width="0.9"/>
<line x1="162.85" y1="607.6" x2="162.85" y2="609.9" stroke="#777" stroke-width="0.9"/>
<line x1="168.74" y1="607.6" x2="168.74" y2="609.9" stroke="#777" stroke-width="0.9"/>
<line x1="172.91" y1="607.6" x2="172.91" y2="609.9" stroke="#777" stroke-width="0.9"/>
<line x1="176.15" y1="607.6" x2="176.15" y2="609.9" stroke="#777" stroke-width="0.9"/>
<line x1="178.79" y1="607.6" x2="178.79" y2="609.9" stroke="#777" stroke-width="0.9"/>
<line x1="181.03" y1="607.6" x2="181.03" y2="609.9" stroke="#777" stroke-width="0.9"/>
<line x1="182.96" y1="607.6" x2="182.96" y2="609.9" stroke="#777" stroke-width="0.9"/>
<line x1="184.67" y1="607.6" x2="184.67" y2="609.9" stroke="#777" stroke-width="0.9"/>
<line x1="196.25" y1="607.6" x2="196.25" y2="609.9" stroke="#777" stroke-width="0.9"/>
<line x1="202.14" y1="607.6" x2="202.14" y2="609.9" stroke="#777" stroke-width="0.9"/>
<line x1="206.31" y1="607.6" x2="206.31" y2="609.9" stroke="#777" stroke-width="0.9"/>
<line x1="209.55" y1="607.6" x2="209.55" y2="609.9" stroke="#777" stroke-width="0.9"/>
<line x1="212.19" y1="607.6" x2="212.19" y2="609.9" stroke="#777" stroke-width="0.9"/>
<line x1="214.43" y1="607.6" x2="214.43" y2="609.9" stroke="#777" stroke-width="0.9"/>
<line x1="216.36" y1="607.6" x2="216.36" y2="609.9" stroke="#777" stroke-width="0.9"/>
<line x1="218.07" y1="607.6" x2="218.07" y2="609.9" stroke="#777" stroke-width="0.9"/>
<line x1="229.65" y1="607.6" x2="229.65" y2="609.9" stroke="#777" stroke-width="0.9"/>
<line x1="235.54" y1="607.6" x2="235.54" y2="609.9" stroke="#777" stroke-width="0.9"/>
<line x1="239.71" y1="607.6" x2="239.71" y2="609.9" stroke="#777" stroke-width="0.9"/>
<line x1="242.95" y1="607.6" x2="242.95" y2="609.9" stroke="#777" stroke-width="0.9"/>
<line x1="245.59" y1="607.6" x2="245.59" y2="609.9" stroke="#777" stroke-width="0.9"/>
<line x1="247.83" y1="607.6" x2="247.83" y2="609.9" stroke="#777" stroke-width="0.9"/>
<line x1="249.76" y1="607.6" x2="249.76" y2="609.9" stroke="#777" stroke-width="0.9"/>
<line x1="251.47" y1="607.6" x2="251.47" y2="609.9" stroke="#777" stroke-width="0.9"/>
<line x1="263.05" y1="607.6" x2="263.05" y2="609.9" stroke="#777" stroke-width="0.9"/>
<line x1="268.94" y1="607.6" x2="268.94" y2="609.9" stroke="#777" stroke-width="0.9"/>
<line x1="273.11" y1="607.6" x2="273.11" y2="609.9" stroke="#777" stroke-width="0.9"/>
<line x1="276.35" y1="607.6" x2="276.35" y2="609.9" stroke="#777" stroke-width="0.9"/>
<line x1="278.99" y1="607.6" x2="278.99" y2="609.9" stroke="#777" stroke-width="0.9"/>
<line x1="281.23" y1="607.6" x2="281.23" y2="609.9" stroke="#777" stroke-width="0.9"/>
<line x1="283.16" y1="607.6" x2="283.16" y2="609.9" stroke="#777" stroke-width="0.9"/>
<line x1="284.87" y1="607.6" x2="284.87" y2="609.9" stroke="#777" stroke-width="0.9"/>
<line x1="119.4" y1="607.6" x2="119.4" y2="611.1" stroke="#777" stroke-width="1"/>
<line x1="152.8" y1="607.6" x2="152.8" y2="611.1" stroke="#777" stroke-width="1"/>
<line x1="186.2" y1="607.6" x2="186.2" y2="611.1" stroke="#777" stroke-width="1"/>
<line x1="219.6" y1="607.6" x2="219.6" y2="611.1" stroke="#777" stroke-width="1"/>
<line x1="253" y1="607.6" x2="253" y2="611.1" stroke="#777" stroke-width="1"/>
<line x1="286.4" y1="607.6" x2="286.4" y2="611.1" stroke="#777" stroke-width="1"/>
<text x="119.4" y="624.1" font-size="11" text-anchor="middle" letter-spacing="0.13" stroke="#111" stroke-width="0.2" fill="#111">0.0001</text>
<text x="186.2" y="624.1" font-size="11" text-anchor="middle" letter-spacing="0.13" stroke="#111" stroke-width="0.2" fill="#111">0.01</text>
<text x="253" y="624.1" font-size="11" text-anchor="middle" letter-spacing="0.13" stroke="#111" stroke-width="0.2" fill="#111">1</text>
<text x="0" y="0" font-size="11" letter-spacing="0.03" fill="#111" stroke="#111" stroke-width="0.2" text-anchor="middle" transform="translate(53.6,551) rotate(-90)">% Inhibition</text>
<text x="233.2" y="638.4" font-size="11" letter-spacing="0.13" fill="#111" stroke="#111" stroke-width="0.2" text-anchor="end">[Rapamycin] (&#956;M)</text>
<circle cx="126.2" cy="612.2" r="2.5" fill="#3a4fa6"/>
<circle cx="142" cy="611.3" r="2.5" fill="#3a4fa6"/>
<line x1="174.1" y1="598.3" x2="174.1" y2="618.6" stroke="#3a4fa6" stroke-width="1.3"/>
<line x1="171.3" y1="598.3" x2="176.9" y2="598.3" stroke="#3a4fa6" stroke-width="1.3"/>
<line x1="171.3" y1="618.6" x2="176.9" y2="618.6" stroke="#3a4fa6" stroke-width="1.3"/>
<circle cx="174.1" cy="608.8" r="2.5" fill="#3a4fa6"/>
<circle cx="190" cy="604.4" r="2.5" fill="#3a4fa6"/>
<line x1="205.8" y1="597.8" x2="205.8" y2="618.2" stroke="#3a4fa6" stroke-width="1.3"/>
<line x1="203" y1="597.8" x2="208.6" y2="597.8" stroke="#3a4fa6" stroke-width="1.3"/>
<line x1="203" y1="618.2" x2="208.6" y2="618.2" stroke="#3a4fa6" stroke-width="1.3"/>
<circle cx="205.8" cy="611.6" r="2.5" fill="#3a4fa6"/>
<line x1="221.6" y1="598.9" x2="221.6" y2="610.5" stroke="#3a4fa6" stroke-width="1.3"/>
<line x1="218.8" y1="598.9" x2="224.4" y2="598.9" stroke="#3a4fa6" stroke-width="1.3"/>
<line x1="218.8" y1="610.5" x2="224.4" y2="610.5" stroke="#3a4fa6" stroke-width="1.3"/>
<circle cx="221.6" cy="604.9" r="2.5" fill="#3a4fa6"/>
<line x1="237.6" y1="610.7" x2="237.6" y2="617.7" stroke="#3a4fa6" stroke-width="1.3"/>
<line x1="234.8" y1="610.7" x2="240.4" y2="610.7" stroke="#3a4fa6" stroke-width="1.3"/>
<circle cx="237.6" cy="617.7" r="2.5" fill="#3a4fa6"/>
<line x1="269.3" y1="597.4" x2="269.3" y2="618.6" stroke="#3a4fa6" stroke-width="1.3"/>
<line x1="266.5" y1="597.4" x2="272.1" y2="597.4" stroke="#3a4fa6" stroke-width="1.3"/>
<line x1="266.5" y1="618.6" x2="272.1" y2="618.6" stroke="#3a4fa6" stroke-width="1.3"/>
<circle cx="269.3" cy="608.1" r="2.5" fill="#3a4fa6"/>
<line x1="466.6" y1="485.1" x2="466.6" y2="619" stroke="#7a7a7a" stroke-width="1.3"/>
<line x1="463.1" y1="496.9" x2="466.6" y2="496.9" stroke="#7a7a7a" stroke-width="1.1"/>
<text x="459.4" y="500.9" font-size="11" text-anchor="end" letter-spacing="0.13" stroke="#111" stroke-width="0.2" fill="#111">100</text>
<line x1="463.1" y1="552.45" x2="466.6" y2="552.45" stroke="#7a7a7a" stroke-width="1.1"/>
<text x="459.4" y="556.45" font-size="11" text-anchor="end" letter-spacing="0.13" stroke="#111" stroke-width="0.2" fill="#111">50</text>
<line x1="463.1" y1="608" x2="466.6" y2="608" stroke="#7a7a7a" stroke-width="1.1"/>
<text x="459.4" y="612" font-size="11" text-anchor="end" letter-spacing="0.13" stroke="#111" stroke-width="0.2" fill="#111">0</text>
<line x1="463.1" y1="608" x2="666.9" y2="608" stroke="#333" stroke-width="1.1"/>
<line x1="480.84" y1="608" x2="480.84" y2="610.3" stroke="#333" stroke-width="0.9"/>
<line x1="489.7" y1="608" x2="489.7" y2="610.3" stroke="#333" stroke-width="0.9"/>
<line x1="495.98" y1="608" x2="495.98" y2="610.3" stroke="#333" stroke-width="0.9"/>
<line x1="500.86" y1="608" x2="500.86" y2="610.3" stroke="#333" stroke-width="0.9"/>
<line x1="504.84" y1="608" x2="504.84" y2="610.3" stroke="#333" stroke-width="0.9"/>
<line x1="508.21" y1="608" x2="508.21" y2="610.3" stroke="#333" stroke-width="0.9"/>
<line x1="511.13" y1="608" x2="511.13" y2="610.3" stroke="#333" stroke-width="0.9"/>
<line x1="513.7" y1="608" x2="513.7" y2="610.3" stroke="#333" stroke-width="0.9"/>
<line x1="531.14" y1="608" x2="531.14" y2="610.3" stroke="#333" stroke-width="0.9"/>
<line x1="540" y1="608" x2="540" y2="610.3" stroke="#333" stroke-width="0.9"/>
<line x1="546.28" y1="608" x2="546.28" y2="610.3" stroke="#333" stroke-width="0.9"/>
<line x1="551.16" y1="608" x2="551.16" y2="610.3" stroke="#333" stroke-width="0.9"/>
<line x1="555.14" y1="608" x2="555.14" y2="610.3" stroke="#333" stroke-width="0.9"/>
<line x1="558.51" y1="608" x2="558.51" y2="610.3" stroke="#333" stroke-width="0.9"/>
<line x1="561.43" y1="608" x2="561.43" y2="610.3" stroke="#333" stroke-width="0.9"/>
<line x1="564" y1="608" x2="564" y2="610.3" stroke="#333" stroke-width="0.9"/>
<line x1="581.44" y1="608" x2="581.44" y2="610.3" stroke="#333" stroke-width="0.9"/>
<line x1="590.3" y1="608" x2="590.3" y2="610.3" stroke="#333" stroke-width="0.9"/>
<line x1="596.58" y1="608" x2="596.58" y2="610.3" stroke="#333" stroke-width="0.9"/>
<line x1="601.46" y1="608" x2="601.46" y2="610.3" stroke="#333" stroke-width="0.9"/>
<line x1="605.44" y1="608" x2="605.44" y2="610.3" stroke="#333" stroke-width="0.9"/>
<line x1="608.81" y1="608" x2="608.81" y2="610.3" stroke="#333" stroke-width="0.9"/>
<line x1="611.73" y1="608" x2="611.73" y2="610.3" stroke="#333" stroke-width="0.9"/>
<line x1="614.3" y1="608" x2="614.3" y2="610.3" stroke="#333" stroke-width="0.9"/>
<line x1="631.74" y1="608" x2="631.74" y2="610.3" stroke="#333" stroke-width="0.9"/>
<line x1="640.6" y1="608" x2="640.6" y2="610.3" stroke="#333" stroke-width="0.9"/>
<line x1="646.88" y1="608" x2="646.88" y2="610.3" stroke="#333" stroke-width="0.9"/>
<line x1="651.76" y1="608" x2="651.76" y2="610.3" stroke="#333" stroke-width="0.9"/>
<line x1="655.74" y1="608" x2="655.74" y2="610.3" stroke="#333" stroke-width="0.9"/>
<line x1="659.11" y1="608" x2="659.11" y2="610.3" stroke="#333" stroke-width="0.9"/>
<line x1="662.03" y1="608" x2="662.03" y2="610.3" stroke="#333" stroke-width="0.9"/>
<line x1="664.6" y1="608" x2="664.6" y2="610.3" stroke="#333" stroke-width="0.9"/>
<line x1="516" y1="608" x2="516" y2="611.5" stroke="#333" stroke-width="1"/>
<line x1="566.3" y1="608" x2="566.3" y2="611.5" stroke="#333" stroke-width="1"/>
<line x1="616.6" y1="608" x2="616.6" y2="611.5" stroke="#333" stroke-width="1"/>
<line x1="666.9" y1="608" x2="666.9" y2="611.5" stroke="#333" stroke-width="1"/>
<text x="516" y="623.8" font-size="11" text-anchor="middle" letter-spacing="0.13" stroke="#111" stroke-width="0.2" fill="#111">0.1</text>
<text x="566.3" y="623.8" font-size="11" text-anchor="middle" letter-spacing="0.13" stroke="#111" stroke-width="0.2" fill="#111">1</text>
<text x="616.6" y="623.8" font-size="11" text-anchor="middle" letter-spacing="0.13" stroke="#111" stroke-width="0.2" fill="#111">10</text>
<text x="666.9" y="623.8" font-size="11" text-anchor="middle" letter-spacing="0.13" stroke="#111" stroke-width="0.2" fill="#111">100</text>
<text x="0" y="0" font-size="11" letter-spacing="0.03" fill="#111" stroke="#111" stroke-width="0.2" text-anchor="middle" transform="translate(433.6,551) rotate(-90)">% Inhibition</text>
<text x="568" y="640" font-size="11" letter-spacing="0.13" fill="#111" stroke="#111" stroke-width="0.2" text-anchor="middle">[<tspan font-weight="bold">NR1</tspan>] (&#956;M)</text>
<text x="502" y="546.4" font-size="11" letter-spacing="0.13" fill="#111" stroke="#111" stroke-width="0.2">IC<tspan font-size="8" dy="3.6">50</tspan><tspan dy="-3.6" letter-spacing="0.13"> = 2.1 &#956;M</tspan></text>
<polyline points="476.4,613.38 477.81,613.38 479.21,613.37 480.62,613.37 482.02,613.37 483.43,613.36 484.84,613.36 486.24,613.35 487.65,613.35 489.05,613.34 490.46,613.33 491.86,613.33 493.27,613.32 494.68,613.31 496.08,613.3 497.49,613.28 498.89,613.27 500.3,613.25 501.71,613.24 503.11,613.22 504.52,613.19 505.92,613.17 507.33,613.14 508.74,613.11 510.14,613.08 511.55,613.04 512.95,612.99 514.36,612.95 515.76,612.89 517.17,612.83 518.58,612.76 519.98,612.69 521.39,612.6 522.79,612.51 524.2,612.4 525.61,612.28 527.01,612.15 528.42,612 529.82,611.84 531.23,611.65 532.64,611.45 534.04,611.22 535.45,610.96 536.85,610.67 538.26,610.36 539.66,610 541.07,609.61 542.48,609.17 543.88,608.68 545.29,608.15 546.69,607.55 548.1,606.89 549.51,606.16 550.91,605.35 552.32,604.46 553.72,603.48 555.13,602.41 556.54,601.23 557.94,599.95 559.35,598.55 560.75,597.02 562.16,595.37 563.56,593.58 564.97,591.66 566.38,589.6 567.78,587.4 569.19,585.06 570.59,582.59 572,579.98 573.41,577.25 574.81,574.4 576.22,571.45 577.62,568.41 579.03,565.29 580.44,562.13 581.84,558.92 583.25,555.71 584.65,552.49 586.06,549.3 587.46,546.16 588.87,543.08 590.28,540.08 591.68,537.18 593.09,534.39 594.49,531.72 595.9,529.17 597.31,526.76 598.71,524.49 600.12,522.36 601.52,520.37 602.93,518.52 604.34,516.8 605.74,515.21 607.15,513.75 608.55,512.4 609.96,511.17 611.36,510.05 612.77,509.02 614.18,508.09 615.58,507.24 616.99,506.47 618.39,505.78 619.8,505.15 621.21,504.58 622.61,504.07 624.02,503.61 625.42,503.19 626.83,502.82 628.24,502.48 629.64,502.18 631.05,501.91 632.45,501.67 633.86,501.45 635.26,501.26 636.67,501.08 638.08,500.92 639.48,500.78 640.89,500.66 642.29,500.55 643.7,500.45" fill="none" stroke="#3a4fa6" stroke-width="1.6" stroke-linejoin="round"/>
<circle cx="475.7" cy="608.3" r="2.5" fill="#3a4fa6"/>
<circle cx="499.7" cy="611.5" r="2.5" fill="#3a4fa6"/>
<circle cx="523.7" cy="612.8" r="2.5" fill="#3a4fa6"/>
<circle cx="547.7" cy="617.6" r="2.5" fill="#3a4fa6"/>
<line x1="571.7" y1="576.4" x2="571.7" y2="582.5" stroke="#3a4fa6" stroke-width="1.3"/>
<line x1="568.9" y1="576.4" x2="574.5" y2="576.4" stroke="#3a4fa6" stroke-width="1.3"/>
<line x1="568.9" y1="582.5" x2="574.5" y2="582.5" stroke="#3a4fa6" stroke-width="1.3"/>
<circle cx="571.7" cy="579.3" r="2.5" fill="#3a4fa6"/>
<circle cx="595.7" cy="531.4" r="2.5" fill="#3a4fa6"/>
<circle cx="619.7" cy="502.8" r="2.5" fill="#3a4fa6"/>
<line x1="643.7" y1="498.2" x2="643.7" y2="506.6" stroke="#3a4fa6" stroke-width="1.3"/>
<line x1="640.9" y1="498.2" x2="646.5" y2="498.2" stroke="#3a4fa6" stroke-width="1.3"/>
<line x1="640.9" y1="506.6" x2="646.5" y2="506.6" stroke="#3a4fa6" stroke-width="1.3"/>
<circle cx="643.7" cy="502.3" r="2.5" fill="#3a4fa6"/>
</svg></body></html>
